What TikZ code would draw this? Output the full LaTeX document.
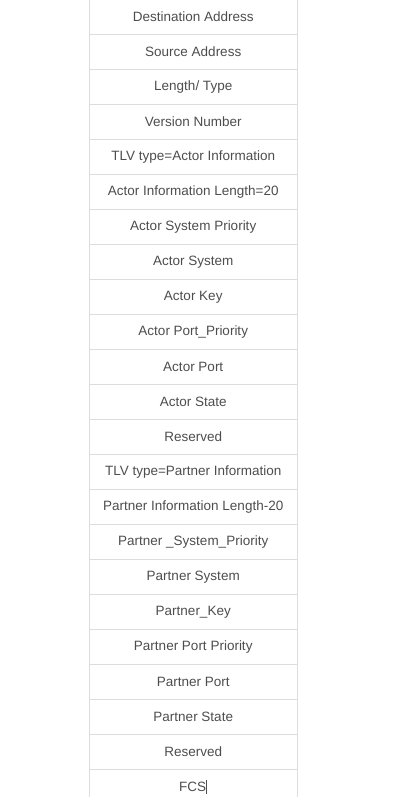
\documentclass[tikz,border=0pt]{standalone}
\usepackage{fontspec}
\setmainfont{Liberation Sans}
\definecolor{rule}{HTML}{DDDDDD}
\definecolor{txt}{HTML}{4D4D4D}
\tikzset{
  cell/.style={minimum width=207.5pt, minimum height=35pt, inner sep=0pt, text=txt,
    font=\fontsize{13.5pt}{15pt}\selectfont},
  rowline/.style={draw=rule, line width=1pt},
}
\begin{document}
\begin{tikzpicture}[x=1pt,y=-1pt]
\useasboundingbox (0,0) rectangle (400,797);
\foreach \t [count=\i] in {Destination Address,Source Address,Length/ Type,Version Number,TLV type=Actor Information,Actor Information Length=20,Actor System Priority,Actor System,Actor Key,Actor Port\_Priority,Actor Port,Actor State,Reserved,TLV type=Partner Information,Partner Information Length-20,Partner \_System\_Priority,Partner System,Partner\_Key,Partner Port Priority,Partner Port,Partner State,Reserved,{FCS\kern0.3pt\rule[-2.5pt]{0.9pt}{13.5pt}}}{
  \node[cell] (r\i) at (193.25, {-0.5+35*(\i-1)+17.5}) {\t};
}
\foreach \i in {1,...,22}{
  \draw[rowline] (r\i.south west) -- (r\i.south east);
}
\coordinate (tl) at (89.5,0);
\coordinate (tr) at (297,0);
\coordinate (bl) at (89.5,797);
\coordinate (br) at (297,797);
\draw[rowline] (tl) -- (bl);
\draw[rowline] (tr) -- (br);
\end{tikzpicture}
\end{document}
